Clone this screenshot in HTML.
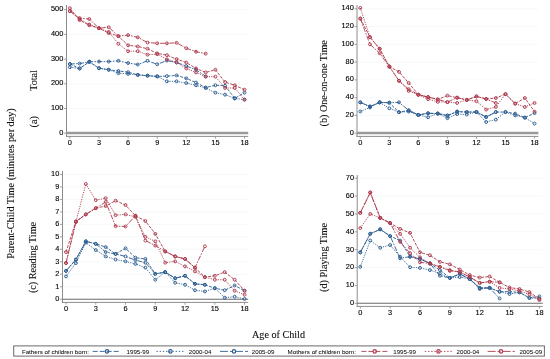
<!DOCTYPE html>
<html><head><meta charset="utf-8">
<style>
html,body{margin:0;padding:0;background:#fff;width:550px;height:359px;overflow:hidden}
svg{display:block;filter:blur(0.3px)}
.tk{font-family:"Liberation Sans",sans-serif;font-size:7.4px;fill:#000;stroke:#000;stroke-width:0.12px}
.st{font-family:"Liberation Serif",serif;font-size:10.6px;fill:#111;stroke:#111;stroke-width:0.1px}
.lg{font-family:"Liberation Sans",sans-serif;font-size:6.2px;fill:#111;stroke:#111;stroke-width:0.05px}
</style></head><body>
<svg width="550" height="359" viewBox="0 0 550 359">
<rect width="550" height="359" fill="#fff"/>
<line x1="66.5" y1="5" x2="66.5" y2="136.9" stroke="#8c8c8c" stroke-width="1"/>
<line x1="66.0" y1="136.4" x2="248.2" y2="136.4" stroke="#8c8c8c" stroke-width="1"/>
<line x1="66.5" y1="133.0" x2="248.2" y2="133.0" stroke="#9a9a9a" stroke-width="2.4"/>
<line x1="64.0" y1="133.20" x2="66.5" y2="133.20" stroke="#8c8c8c" stroke-width="0.8"/>
<text x="63.3" y="134.60" class="tk" text-anchor="end">0</text>
<line x1="67.5" y1="108.50" x2="248.2" y2="108.50" stroke="#f2f8f8" stroke-width="0.8"/>
<line x1="64.0" y1="108.50" x2="66.5" y2="108.50" stroke="#8c8c8c" stroke-width="0.8"/>
<text x="63.3" y="109.90" class="tk" text-anchor="end">100</text>
<line x1="67.5" y1="83.80" x2="248.2" y2="83.80" stroke="#f2f8f8" stroke-width="0.8"/>
<line x1="64.0" y1="83.80" x2="66.5" y2="83.80" stroke="#8c8c8c" stroke-width="0.8"/>
<text x="63.3" y="85.20" class="tk" text-anchor="end">200</text>
<line x1="67.5" y1="59.10" x2="248.2" y2="59.10" stroke="#f2f8f8" stroke-width="0.8"/>
<line x1="64.0" y1="59.10" x2="66.5" y2="59.10" stroke="#8c8c8c" stroke-width="0.8"/>
<text x="63.3" y="60.50" class="tk" text-anchor="end">300</text>
<line x1="67.5" y1="34.40" x2="248.2" y2="34.40" stroke="#f2f8f8" stroke-width="0.8"/>
<line x1="64.0" y1="34.40" x2="66.5" y2="34.40" stroke="#8c8c8c" stroke-width="0.8"/>
<text x="63.3" y="35.80" class="tk" text-anchor="end">400</text>
<line x1="67.5" y1="9.70" x2="248.2" y2="9.70" stroke="#f2f8f8" stroke-width="0.8"/>
<line x1="64.0" y1="9.70" x2="66.5" y2="9.70" stroke="#8c8c8c" stroke-width="0.8"/>
<text x="63.3" y="11.10" class="tk" text-anchor="end">500</text>
<line x1="69.90" y1="136.4" x2="69.90" y2="138.70000000000002" stroke="#8c8c8c" stroke-width="0.8"/>
<text x="69.90" y="144.70" class="tk" text-anchor="middle">0</text>
<line x1="99.00" y1="136.4" x2="99.00" y2="138.70000000000002" stroke="#8c8c8c" stroke-width="0.8"/>
<text x="99.00" y="144.70" class="tk" text-anchor="middle">3</text>
<line x1="128.10" y1="136.4" x2="128.10" y2="138.70000000000002" stroke="#8c8c8c" stroke-width="0.8"/>
<text x="128.10" y="144.70" class="tk" text-anchor="middle">6</text>
<line x1="157.20" y1="136.4" x2="157.20" y2="138.70000000000002" stroke="#8c8c8c" stroke-width="0.8"/>
<text x="157.20" y="144.70" class="tk" text-anchor="middle">9</text>
<line x1="186.30" y1="136.4" x2="186.30" y2="138.70000000000002" stroke="#8c8c8c" stroke-width="0.8"/>
<text x="186.30" y="144.70" class="tk" text-anchor="middle">12</text>
<line x1="215.40" y1="136.4" x2="215.40" y2="138.70000000000002" stroke="#8c8c8c" stroke-width="0.8"/>
<text x="215.40" y="144.70" class="tk" text-anchor="middle">15</text>
<line x1="244.50" y1="136.4" x2="244.50" y2="138.70000000000002" stroke="#8c8c8c" stroke-width="0.8"/>
<text x="244.50" y="144.70" class="tk" text-anchor="middle">18</text>
<polyline points="69.90,67.25 79.60,68.49 89.30,61.82 99.00,68.24 108.70,69.72 118.40,73.18 128.10,73.92 137.80,74.91 147.50,75.65 157.20,76.39 166.90,81.33 176.60,81.33 186.30,83.06 196.00,85.28 205.70,88.00 215.40,92.69 225.10,94.67 234.80,98.37 244.50,99.61" fill="none" stroke="#2c5d90" stroke-width="1" stroke-dasharray="1.2,1.2" opacity="0.9"/>
<circle cx="69.90" cy="67.25" r="1.45" fill="none" stroke="#2c5d90" stroke-width="0.95"/>
<circle cx="79.60" cy="68.49" r="1.45" fill="none" stroke="#2c5d90" stroke-width="0.95"/>
<circle cx="89.30" cy="61.82" r="1.45" fill="none" stroke="#2c5d90" stroke-width="0.95"/>
<circle cx="99.00" cy="68.24" r="1.45" fill="none" stroke="#2c5d90" stroke-width="0.95"/>
<circle cx="108.70" cy="69.72" r="1.45" fill="none" stroke="#2c5d90" stroke-width="0.95"/>
<circle cx="118.40" cy="73.18" r="1.45" fill="none" stroke="#2c5d90" stroke-width="0.95"/>
<circle cx="128.10" cy="73.92" r="1.45" fill="none" stroke="#2c5d90" stroke-width="0.95"/>
<circle cx="137.80" cy="74.91" r="1.45" fill="none" stroke="#2c5d90" stroke-width="0.95"/>
<circle cx="147.50" cy="75.65" r="1.45" fill="none" stroke="#2c5d90" stroke-width="0.95"/>
<circle cx="157.20" cy="76.39" r="1.45" fill="none" stroke="#2c5d90" stroke-width="0.95"/>
<circle cx="166.90" cy="81.33" r="1.45" fill="none" stroke="#2c5d90" stroke-width="0.95"/>
<circle cx="176.60" cy="81.33" r="1.45" fill="none" stroke="#2c5d90" stroke-width="0.95"/>
<circle cx="186.30" cy="83.06" r="1.45" fill="none" stroke="#2c5d90" stroke-width="0.95"/>
<circle cx="196.00" cy="85.28" r="1.45" fill="none" stroke="#2c5d90" stroke-width="0.95"/>
<circle cx="205.70" cy="88.00" r="1.45" fill="none" stroke="#2c5d90" stroke-width="0.95"/>
<circle cx="215.40" cy="92.69" r="1.45" fill="none" stroke="#2c5d90" stroke-width="0.95"/>
<circle cx="225.10" cy="94.67" r="1.45" fill="none" stroke="#2c5d90" stroke-width="0.95"/>
<circle cx="234.80" cy="98.37" r="1.45" fill="none" stroke="#2c5d90" stroke-width="0.95"/>
<circle cx="244.50" cy="99.61" r="1.45" fill="none" stroke="#2c5d90" stroke-width="0.95"/>
<polyline points="69.90,64.04 79.60,68.49 89.30,61.82 99.00,68.24 108.70,69.72 118.40,70.96 128.10,72.19 137.80,74.91 147.50,75.65 157.20,76.39 166.90,76.14 176.60,75.40 186.30,78.37 196.00,82.56 205.70,87.50 215.40,85.28 225.10,85.78 234.80,98.37 244.50,92.69" fill="none" stroke="#2c5d90" stroke-width="1" stroke-dasharray="3,1.3" opacity="0.9"/>
<circle cx="69.90" cy="64.04" r="1.45" fill="none" stroke="#2c5d90" stroke-width="0.95"/>
<circle cx="79.60" cy="68.49" r="1.45" fill="none" stroke="#2c5d90" stroke-width="0.95"/>
<circle cx="89.30" cy="61.82" r="1.45" fill="none" stroke="#2c5d90" stroke-width="0.95"/>
<circle cx="99.00" cy="68.24" r="1.45" fill="none" stroke="#2c5d90" stroke-width="0.95"/>
<circle cx="108.70" cy="69.72" r="1.45" fill="none" stroke="#2c5d90" stroke-width="0.95"/>
<circle cx="118.40" cy="70.96" r="1.45" fill="none" stroke="#2c5d90" stroke-width="0.95"/>
<circle cx="128.10" cy="72.19" r="1.45" fill="none" stroke="#2c5d90" stroke-width="0.95"/>
<circle cx="137.80" cy="74.91" r="1.45" fill="none" stroke="#2c5d90" stroke-width="0.95"/>
<circle cx="147.50" cy="75.65" r="1.45" fill="none" stroke="#2c5d90" stroke-width="0.95"/>
<circle cx="157.20" cy="76.39" r="1.45" fill="none" stroke="#2c5d90" stroke-width="0.95"/>
<circle cx="166.90" cy="76.14" r="1.45" fill="none" stroke="#2c5d90" stroke-width="0.95"/>
<circle cx="176.60" cy="75.40" r="1.45" fill="none" stroke="#2c5d90" stroke-width="0.95"/>
<circle cx="186.30" cy="78.37" r="1.45" fill="none" stroke="#2c5d90" stroke-width="0.95"/>
<circle cx="196.00" cy="82.56" r="1.45" fill="none" stroke="#2c5d90" stroke-width="0.95"/>
<circle cx="205.70" cy="87.50" r="1.45" fill="none" stroke="#2c5d90" stroke-width="0.95"/>
<circle cx="215.40" cy="85.28" r="1.45" fill="none" stroke="#2c5d90" stroke-width="0.95"/>
<circle cx="225.10" cy="85.78" r="1.45" fill="none" stroke="#2c5d90" stroke-width="0.95"/>
<circle cx="234.80" cy="98.37" r="1.45" fill="none" stroke="#2c5d90" stroke-width="0.95"/>
<circle cx="244.50" cy="92.69" r="1.45" fill="none" stroke="#2c5d90" stroke-width="0.95"/>
<polyline points="69.90,64.04 79.60,63.55 89.30,61.82 99.00,61.57 108.70,61.57 118.40,60.83 128.10,63.05 137.80,64.53 147.50,60.83 157.20,64.29 166.90,60.58 176.60,62.56 186.30,66.02 196.00,69.72 205.70,76.39" fill="none" stroke="#2c5d90" stroke-width="1" stroke-dasharray="5,1.3,1.6,1.3" opacity="0.9"/>
<circle cx="69.90" cy="64.04" r="1.45" fill="none" stroke="#2c5d90" stroke-width="0.95"/>
<circle cx="79.60" cy="63.55" r="1.45" fill="none" stroke="#2c5d90" stroke-width="0.95"/>
<circle cx="89.30" cy="61.82" r="1.45" fill="none" stroke="#2c5d90" stroke-width="0.95"/>
<circle cx="99.00" cy="61.57" r="1.45" fill="none" stroke="#2c5d90" stroke-width="0.95"/>
<circle cx="108.70" cy="61.57" r="1.45" fill="none" stroke="#2c5d90" stroke-width="0.95"/>
<circle cx="118.40" cy="60.83" r="1.45" fill="none" stroke="#2c5d90" stroke-width="0.95"/>
<circle cx="128.10" cy="63.05" r="1.45" fill="none" stroke="#2c5d90" stroke-width="0.95"/>
<circle cx="137.80" cy="64.53" r="1.45" fill="none" stroke="#2c5d90" stroke-width="0.95"/>
<circle cx="147.50" cy="60.83" r="1.45" fill="none" stroke="#2c5d90" stroke-width="0.95"/>
<circle cx="157.20" cy="64.29" r="1.45" fill="none" stroke="#2c5d90" stroke-width="0.95"/>
<circle cx="166.90" cy="60.58" r="1.45" fill="none" stroke="#2c5d90" stroke-width="0.95"/>
<circle cx="176.60" cy="62.56" r="1.45" fill="none" stroke="#2c5d90" stroke-width="0.95"/>
<circle cx="186.30" cy="66.02" r="1.45" fill="none" stroke="#2c5d90" stroke-width="0.95"/>
<circle cx="196.00" cy="69.72" r="1.45" fill="none" stroke="#2c5d90" stroke-width="0.95"/>
<circle cx="205.70" cy="76.39" r="1.45" fill="none" stroke="#2c5d90" stroke-width="0.95"/>
<polyline points="69.90,11.18 79.60,19.09 89.30,24.52 99.00,28.22 108.70,31.93 118.40,43.79 128.10,51.20 137.80,51.20 147.50,54.65 157.20,54.16 166.90,59.35 176.60,62.31 186.30,68.49 196.00,72.44 205.70,76.64 215.40,76.64 225.10,88.00 234.80,88.00 244.50,99.61" fill="none" stroke="#ad3a4c" stroke-width="1" stroke-dasharray="1.2,1.2" opacity="0.9"/>
<circle cx="69.90" cy="11.18" r="1.45" fill="none" stroke="#ad3a4c" stroke-width="0.95"/>
<circle cx="79.60" cy="19.09" r="1.45" fill="none" stroke="#ad3a4c" stroke-width="0.95"/>
<circle cx="89.30" cy="24.52" r="1.45" fill="none" stroke="#ad3a4c" stroke-width="0.95"/>
<circle cx="99.00" cy="28.22" r="1.45" fill="none" stroke="#ad3a4c" stroke-width="0.95"/>
<circle cx="108.70" cy="31.93" r="1.45" fill="none" stroke="#ad3a4c" stroke-width="0.95"/>
<circle cx="118.40" cy="43.79" r="1.45" fill="none" stroke="#ad3a4c" stroke-width="0.95"/>
<circle cx="128.10" cy="51.20" r="1.45" fill="none" stroke="#ad3a4c" stroke-width="0.95"/>
<circle cx="137.80" cy="51.20" r="1.45" fill="none" stroke="#ad3a4c" stroke-width="0.95"/>
<circle cx="147.50" cy="54.65" r="1.45" fill="none" stroke="#ad3a4c" stroke-width="0.95"/>
<circle cx="157.20" cy="54.16" r="1.45" fill="none" stroke="#ad3a4c" stroke-width="0.95"/>
<circle cx="166.90" cy="59.35" r="1.45" fill="none" stroke="#ad3a4c" stroke-width="0.95"/>
<circle cx="176.60" cy="62.31" r="1.45" fill="none" stroke="#ad3a4c" stroke-width="0.95"/>
<circle cx="186.30" cy="68.49" r="1.45" fill="none" stroke="#ad3a4c" stroke-width="0.95"/>
<circle cx="196.00" cy="72.44" r="1.45" fill="none" stroke="#ad3a4c" stroke-width="0.95"/>
<circle cx="205.70" cy="76.64" r="1.45" fill="none" stroke="#ad3a4c" stroke-width="0.95"/>
<circle cx="215.40" cy="76.64" r="1.45" fill="none" stroke="#ad3a4c" stroke-width="0.95"/>
<circle cx="225.10" cy="88.00" r="1.45" fill="none" stroke="#ad3a4c" stroke-width="0.95"/>
<circle cx="234.80" cy="88.00" r="1.45" fill="none" stroke="#ad3a4c" stroke-width="0.95"/>
<circle cx="244.50" cy="99.61" r="1.45" fill="none" stroke="#ad3a4c" stroke-width="0.95"/>
<polyline points="69.90,8.22 79.60,20.07 89.30,25.26 99.00,28.22 108.70,33.16 118.40,36.13 128.10,45.27 137.80,46.50 147.50,48.73 157.20,53.42 166.90,55.15 176.60,59.10 186.30,62.56 196.00,68.49 205.70,72.44 215.40,69.72 225.10,82.07 234.80,85.28 244.50,89.73" fill="none" stroke="#ad3a4c" stroke-width="1" stroke-dasharray="3,1.3" opacity="0.9"/>
<circle cx="69.90" cy="8.22" r="1.45" fill="none" stroke="#ad3a4c" stroke-width="0.95"/>
<circle cx="79.60" cy="20.07" r="1.45" fill="none" stroke="#ad3a4c" stroke-width="0.95"/>
<circle cx="89.30" cy="25.26" r="1.45" fill="none" stroke="#ad3a4c" stroke-width="0.95"/>
<circle cx="99.00" cy="28.22" r="1.45" fill="none" stroke="#ad3a4c" stroke-width="0.95"/>
<circle cx="108.70" cy="33.16" r="1.45" fill="none" stroke="#ad3a4c" stroke-width="0.95"/>
<circle cx="118.40" cy="36.13" r="1.45" fill="none" stroke="#ad3a4c" stroke-width="0.95"/>
<circle cx="128.10" cy="45.27" r="1.45" fill="none" stroke="#ad3a4c" stroke-width="0.95"/>
<circle cx="137.80" cy="46.50" r="1.45" fill="none" stroke="#ad3a4c" stroke-width="0.95"/>
<circle cx="147.50" cy="48.73" r="1.45" fill="none" stroke="#ad3a4c" stroke-width="0.95"/>
<circle cx="157.20" cy="53.42" r="1.45" fill="none" stroke="#ad3a4c" stroke-width="0.95"/>
<circle cx="166.90" cy="55.15" r="1.45" fill="none" stroke="#ad3a4c" stroke-width="0.95"/>
<circle cx="176.60" cy="59.10" r="1.45" fill="none" stroke="#ad3a4c" stroke-width="0.95"/>
<circle cx="186.30" cy="62.56" r="1.45" fill="none" stroke="#ad3a4c" stroke-width="0.95"/>
<circle cx="196.00" cy="68.49" r="1.45" fill="none" stroke="#ad3a4c" stroke-width="0.95"/>
<circle cx="205.70" cy="72.44" r="1.45" fill="none" stroke="#ad3a4c" stroke-width="0.95"/>
<circle cx="215.40" cy="69.72" r="1.45" fill="none" stroke="#ad3a4c" stroke-width="0.95"/>
<circle cx="225.10" cy="82.07" r="1.45" fill="none" stroke="#ad3a4c" stroke-width="0.95"/>
<circle cx="234.80" cy="85.28" r="1.45" fill="none" stroke="#ad3a4c" stroke-width="0.95"/>
<circle cx="244.50" cy="89.73" r="1.45" fill="none" stroke="#ad3a4c" stroke-width="0.95"/>
<polyline points="69.90,11.18 79.60,18.10 89.30,19.09 99.00,28.22 108.70,27.24 118.40,36.13 128.10,35.14 137.80,37.36 147.50,42.55 157.20,43.29 166.90,43.29 176.60,42.80 186.30,48.23 196.00,51.69 205.70,53.67" fill="none" stroke="#ad3a4c" stroke-width="1" stroke-dasharray="5,1.3,1.6,1.3" opacity="0.9"/>
<circle cx="69.90" cy="11.18" r="1.45" fill="none" stroke="#ad3a4c" stroke-width="0.95"/>
<circle cx="79.60" cy="18.10" r="1.45" fill="none" stroke="#ad3a4c" stroke-width="0.95"/>
<circle cx="89.30" cy="19.09" r="1.45" fill="none" stroke="#ad3a4c" stroke-width="0.95"/>
<circle cx="99.00" cy="28.22" r="1.45" fill="none" stroke="#ad3a4c" stroke-width="0.95"/>
<circle cx="108.70" cy="27.24" r="1.45" fill="none" stroke="#ad3a4c" stroke-width="0.95"/>
<circle cx="118.40" cy="36.13" r="1.45" fill="none" stroke="#ad3a4c" stroke-width="0.95"/>
<circle cx="128.10" cy="35.14" r="1.45" fill="none" stroke="#ad3a4c" stroke-width="0.95"/>
<circle cx="137.80" cy="37.36" r="1.45" fill="none" stroke="#ad3a4c" stroke-width="0.95"/>
<circle cx="147.50" cy="42.55" r="1.45" fill="none" stroke="#ad3a4c" stroke-width="0.95"/>
<circle cx="157.20" cy="43.29" r="1.45" fill="none" stroke="#ad3a4c" stroke-width="0.95"/>
<circle cx="166.90" cy="43.29" r="1.45" fill="none" stroke="#ad3a4c" stroke-width="0.95"/>
<circle cx="176.60" cy="42.80" r="1.45" fill="none" stroke="#ad3a4c" stroke-width="0.95"/>
<circle cx="186.30" cy="48.23" r="1.45" fill="none" stroke="#ad3a4c" stroke-width="0.95"/>
<circle cx="196.00" cy="51.69" r="1.45" fill="none" stroke="#ad3a4c" stroke-width="0.95"/>
<circle cx="205.70" cy="53.67" r="1.45" fill="none" stroke="#ad3a4c" stroke-width="0.95"/>
<line x1="357.0" y1="5" x2="357.0" y2="136.9" stroke="#8c8c8c" stroke-width="1"/>
<line x1="356.5" y1="136.4" x2="538.4" y2="136.4" stroke="#8c8c8c" stroke-width="1"/>
<line x1="357.0" y1="133.0" x2="538.4" y2="133.0" stroke="#9a9a9a" stroke-width="2.4"/>
<line x1="354.5" y1="133.20" x2="357.0" y2="133.20" stroke="#8c8c8c" stroke-width="0.8"/>
<text x="353.8" y="134.60" class="tk" text-anchor="end">0</text>
<line x1="358.0" y1="115.43" x2="538.4" y2="115.43" stroke="#f2f8f8" stroke-width="0.8"/>
<line x1="354.5" y1="115.43" x2="357.0" y2="115.43" stroke="#8c8c8c" stroke-width="0.8"/>
<text x="353.8" y="116.83" class="tk" text-anchor="end">20</text>
<line x1="358.0" y1="97.66" x2="538.4" y2="97.66" stroke="#f2f8f8" stroke-width="0.8"/>
<line x1="354.5" y1="97.66" x2="357.0" y2="97.66" stroke="#8c8c8c" stroke-width="0.8"/>
<text x="353.8" y="99.06" class="tk" text-anchor="end">40</text>
<line x1="358.0" y1="79.88" x2="538.4" y2="79.88" stroke="#f2f8f8" stroke-width="0.8"/>
<line x1="354.5" y1="79.88" x2="357.0" y2="79.88" stroke="#8c8c8c" stroke-width="0.8"/>
<text x="353.8" y="81.28" class="tk" text-anchor="end">60</text>
<line x1="358.0" y1="62.11" x2="538.4" y2="62.11" stroke="#f2f8f8" stroke-width="0.8"/>
<line x1="354.5" y1="62.11" x2="357.0" y2="62.11" stroke="#8c8c8c" stroke-width="0.8"/>
<text x="353.8" y="63.51" class="tk" text-anchor="end">80</text>
<line x1="358.0" y1="44.34" x2="538.4" y2="44.34" stroke="#f2f8f8" stroke-width="0.8"/>
<line x1="354.5" y1="44.34" x2="357.0" y2="44.34" stroke="#8c8c8c" stroke-width="0.8"/>
<text x="353.8" y="45.74" class="tk" text-anchor="end">100</text>
<line x1="358.0" y1="26.57" x2="538.4" y2="26.57" stroke="#f2f8f8" stroke-width="0.8"/>
<line x1="354.5" y1="26.57" x2="357.0" y2="26.57" stroke="#8c8c8c" stroke-width="0.8"/>
<text x="353.8" y="27.97" class="tk" text-anchor="end">120</text>
<line x1="358.0" y1="8.80" x2="538.4" y2="8.80" stroke="#f2f8f8" stroke-width="0.8"/>
<line x1="354.5" y1="8.80" x2="357.0" y2="8.80" stroke="#8c8c8c" stroke-width="0.8"/>
<text x="353.8" y="10.20" class="tk" text-anchor="end">140</text>
<line x1="360.30" y1="136.4" x2="360.30" y2="138.70000000000002" stroke="#8c8c8c" stroke-width="0.8"/>
<text x="360.30" y="144.70" class="tk" text-anchor="middle">0</text>
<line x1="389.34" y1="136.4" x2="389.34" y2="138.70000000000002" stroke="#8c8c8c" stroke-width="0.8"/>
<text x="389.34" y="144.70" class="tk" text-anchor="middle">3</text>
<line x1="418.38" y1="136.4" x2="418.38" y2="138.70000000000002" stroke="#8c8c8c" stroke-width="0.8"/>
<text x="418.38" y="144.70" class="tk" text-anchor="middle">6</text>
<line x1="447.42" y1="136.4" x2="447.42" y2="138.70000000000002" stroke="#8c8c8c" stroke-width="0.8"/>
<text x="447.42" y="144.70" class="tk" text-anchor="middle">9</text>
<line x1="476.46" y1="136.4" x2="476.46" y2="138.70000000000002" stroke="#8c8c8c" stroke-width="0.8"/>
<text x="476.46" y="144.70" class="tk" text-anchor="middle">12</text>
<line x1="505.50" y1="136.4" x2="505.50" y2="138.70000000000002" stroke="#8c8c8c" stroke-width="0.8"/>
<text x="505.50" y="144.70" class="tk" text-anchor="middle">15</text>
<line x1="534.54" y1="136.4" x2="534.54" y2="138.70000000000002" stroke="#8c8c8c" stroke-width="0.8"/>
<text x="534.54" y="144.70" class="tk" text-anchor="middle">18</text>
<polyline points="360.30,111.52 369.98,107.43 379.66,102.37 389.34,108.32 399.02,112.23 408.70,111.52 418.38,114.98 428.06,117.29 437.74,113.56 447.42,118.18 457.10,114.01 466.78,114.54 476.46,112.05 486.14,122.00 495.82,119.60 505.50,112.05 515.18,115.43 524.86,117.65 534.54,123.60" fill="none" stroke="#2c5d90" stroke-width="1" stroke-dasharray="1.2,1.2" opacity="0.9"/>
<circle cx="360.30" cy="111.52" r="1.45" fill="none" stroke="#2c5d90" stroke-width="0.95"/>
<circle cx="369.98" cy="107.43" r="1.45" fill="none" stroke="#2c5d90" stroke-width="0.95"/>
<circle cx="379.66" cy="102.37" r="1.45" fill="none" stroke="#2c5d90" stroke-width="0.95"/>
<circle cx="389.34" cy="108.32" r="1.45" fill="none" stroke="#2c5d90" stroke-width="0.95"/>
<circle cx="399.02" cy="112.23" r="1.45" fill="none" stroke="#2c5d90" stroke-width="0.95"/>
<circle cx="408.70" cy="111.52" r="1.45" fill="none" stroke="#2c5d90" stroke-width="0.95"/>
<circle cx="418.38" cy="114.98" r="1.45" fill="none" stroke="#2c5d90" stroke-width="0.95"/>
<circle cx="428.06" cy="117.29" r="1.45" fill="none" stroke="#2c5d90" stroke-width="0.95"/>
<circle cx="437.74" cy="113.56" r="1.45" fill="none" stroke="#2c5d90" stroke-width="0.95"/>
<circle cx="447.42" cy="118.18" r="1.45" fill="none" stroke="#2c5d90" stroke-width="0.95"/>
<circle cx="457.10" cy="114.01" r="1.45" fill="none" stroke="#2c5d90" stroke-width="0.95"/>
<circle cx="466.78" cy="114.54" r="1.45" fill="none" stroke="#2c5d90" stroke-width="0.95"/>
<circle cx="476.46" cy="112.05" r="1.45" fill="none" stroke="#2c5d90" stroke-width="0.95"/>
<circle cx="486.14" cy="122.00" r="1.45" fill="none" stroke="#2c5d90" stroke-width="0.95"/>
<circle cx="495.82" cy="119.60" r="1.45" fill="none" stroke="#2c5d90" stroke-width="0.95"/>
<circle cx="505.50" cy="112.05" r="1.45" fill="none" stroke="#2c5d90" stroke-width="0.95"/>
<circle cx="515.18" cy="115.43" r="1.45" fill="none" stroke="#2c5d90" stroke-width="0.95"/>
<circle cx="524.86" cy="117.65" r="1.45" fill="none" stroke="#2c5d90" stroke-width="0.95"/>
<circle cx="534.54" cy="123.60" r="1.45" fill="none" stroke="#2c5d90" stroke-width="0.95"/>
<polyline points="360.30,102.37 369.98,106.54 379.66,102.37 389.34,102.72 399.02,112.23 408.70,110.36 418.38,114.98 428.06,113.30 437.74,113.56 447.42,115.52 457.10,111.61 466.78,112.05 476.46,112.05 486.14,117.03 495.82,112.05 505.50,112.05 515.18,113.65 524.86,117.65 534.54,113.03" fill="none" stroke="#2c5d90" stroke-width="1" stroke-dasharray="3,1.3" opacity="0.9"/>
<circle cx="360.30" cy="102.37" r="1.45" fill="none" stroke="#2c5d90" stroke-width="0.95"/>
<circle cx="369.98" cy="106.54" r="1.45" fill="none" stroke="#2c5d90" stroke-width="0.95"/>
<circle cx="379.66" cy="102.37" r="1.45" fill="none" stroke="#2c5d90" stroke-width="0.95"/>
<circle cx="389.34" cy="102.72" r="1.45" fill="none" stroke="#2c5d90" stroke-width="0.95"/>
<circle cx="399.02" cy="112.23" r="1.45" fill="none" stroke="#2c5d90" stroke-width="0.95"/>
<circle cx="408.70" cy="110.36" r="1.45" fill="none" stroke="#2c5d90" stroke-width="0.95"/>
<circle cx="418.38" cy="114.98" r="1.45" fill="none" stroke="#2c5d90" stroke-width="0.95"/>
<circle cx="428.06" cy="113.30" r="1.45" fill="none" stroke="#2c5d90" stroke-width="0.95"/>
<circle cx="437.74" cy="113.56" r="1.45" fill="none" stroke="#2c5d90" stroke-width="0.95"/>
<circle cx="447.42" cy="115.52" r="1.45" fill="none" stroke="#2c5d90" stroke-width="0.95"/>
<circle cx="457.10" cy="111.61" r="1.45" fill="none" stroke="#2c5d90" stroke-width="0.95"/>
<circle cx="466.78" cy="112.05" r="1.45" fill="none" stroke="#2c5d90" stroke-width="0.95"/>
<circle cx="476.46" cy="112.05" r="1.45" fill="none" stroke="#2c5d90" stroke-width="0.95"/>
<circle cx="486.14" cy="117.03" r="1.45" fill="none" stroke="#2c5d90" stroke-width="0.95"/>
<circle cx="495.82" cy="112.05" r="1.45" fill="none" stroke="#2c5d90" stroke-width="0.95"/>
<circle cx="505.50" cy="112.05" r="1.45" fill="none" stroke="#2c5d90" stroke-width="0.95"/>
<circle cx="515.18" cy="113.65" r="1.45" fill="none" stroke="#2c5d90" stroke-width="0.95"/>
<circle cx="524.86" cy="117.65" r="1.45" fill="none" stroke="#2c5d90" stroke-width="0.95"/>
<circle cx="534.54" cy="113.03" r="1.45" fill="none" stroke="#2c5d90" stroke-width="0.95"/>
<polyline points="360.30,102.37 369.98,106.54 379.66,102.37 389.34,102.72 399.02,102.37 408.70,110.36 418.38,114.98 428.06,113.30 437.74,113.56 447.42,115.52 457.10,111.61 466.78,112.05 476.46,112.05 486.14,117.03 495.82,112.05" fill="none" stroke="#2c5d90" stroke-width="1" stroke-dasharray="5,1.3,1.6,1.3" opacity="0.9"/>
<circle cx="360.30" cy="102.37" r="1.45" fill="none" stroke="#2c5d90" stroke-width="0.95"/>
<circle cx="369.98" cy="106.54" r="1.45" fill="none" stroke="#2c5d90" stroke-width="0.95"/>
<circle cx="379.66" cy="102.37" r="1.45" fill="none" stroke="#2c5d90" stroke-width="0.95"/>
<circle cx="389.34" cy="102.72" r="1.45" fill="none" stroke="#2c5d90" stroke-width="0.95"/>
<circle cx="399.02" cy="102.37" r="1.45" fill="none" stroke="#2c5d90" stroke-width="0.95"/>
<circle cx="408.70" cy="110.36" r="1.45" fill="none" stroke="#2c5d90" stroke-width="0.95"/>
<circle cx="418.38" cy="114.98" r="1.45" fill="none" stroke="#2c5d90" stroke-width="0.95"/>
<circle cx="428.06" cy="113.30" r="1.45" fill="none" stroke="#2c5d90" stroke-width="0.95"/>
<circle cx="437.74" cy="113.56" r="1.45" fill="none" stroke="#2c5d90" stroke-width="0.95"/>
<circle cx="447.42" cy="115.52" r="1.45" fill="none" stroke="#2c5d90" stroke-width="0.95"/>
<circle cx="457.10" cy="111.61" r="1.45" fill="none" stroke="#2c5d90" stroke-width="0.95"/>
<circle cx="466.78" cy="112.05" r="1.45" fill="none" stroke="#2c5d90" stroke-width="0.95"/>
<circle cx="476.46" cy="112.05" r="1.45" fill="none" stroke="#2c5d90" stroke-width="0.95"/>
<circle cx="486.14" cy="117.03" r="1.45" fill="none" stroke="#2c5d90" stroke-width="0.95"/>
<circle cx="495.82" cy="112.05" r="1.45" fill="none" stroke="#2c5d90" stroke-width="0.95"/>
<polyline points="360.30,7.91 369.98,37.23 379.66,48.78 389.34,66.55 399.02,80.77 408.70,90.90 418.38,94.72 428.06,99.17 437.74,101.83 447.42,102.10 457.10,102.99 466.78,99.97 476.46,101.21 486.14,109.56 495.82,106.99 505.50,94.10 515.18,103.61 524.86,106.99 534.54,102.99" fill="none" stroke="#ad3a4c" stroke-width="1" stroke-dasharray="1.2,1.2" opacity="0.9"/>
<circle cx="360.30" cy="7.91" r="1.45" fill="none" stroke="#ad3a4c" stroke-width="0.95"/>
<circle cx="369.98" cy="37.23" r="1.45" fill="none" stroke="#ad3a4c" stroke-width="0.95"/>
<circle cx="379.66" cy="48.78" r="1.45" fill="none" stroke="#ad3a4c" stroke-width="0.95"/>
<circle cx="389.34" cy="66.55" r="1.45" fill="none" stroke="#ad3a4c" stroke-width="0.95"/>
<circle cx="399.02" cy="80.77" r="1.45" fill="none" stroke="#ad3a4c" stroke-width="0.95"/>
<circle cx="408.70" cy="90.90" r="1.45" fill="none" stroke="#ad3a4c" stroke-width="0.95"/>
<circle cx="418.38" cy="94.72" r="1.45" fill="none" stroke="#ad3a4c" stroke-width="0.95"/>
<circle cx="428.06" cy="99.17" r="1.45" fill="none" stroke="#ad3a4c" stroke-width="0.95"/>
<circle cx="437.74" cy="101.83" r="1.45" fill="none" stroke="#ad3a4c" stroke-width="0.95"/>
<circle cx="447.42" cy="102.10" r="1.45" fill="none" stroke="#ad3a4c" stroke-width="0.95"/>
<circle cx="457.10" cy="102.99" r="1.45" fill="none" stroke="#ad3a4c" stroke-width="0.95"/>
<circle cx="466.78" cy="99.97" r="1.45" fill="none" stroke="#ad3a4c" stroke-width="0.95"/>
<circle cx="476.46" cy="101.21" r="1.45" fill="none" stroke="#ad3a4c" stroke-width="0.95"/>
<circle cx="486.14" cy="109.56" r="1.45" fill="none" stroke="#ad3a4c" stroke-width="0.95"/>
<circle cx="495.82" cy="106.99" r="1.45" fill="none" stroke="#ad3a4c" stroke-width="0.95"/>
<circle cx="505.50" cy="94.10" r="1.45" fill="none" stroke="#ad3a4c" stroke-width="0.95"/>
<circle cx="515.18" cy="103.61" r="1.45" fill="none" stroke="#ad3a4c" stroke-width="0.95"/>
<circle cx="524.86" cy="106.99" r="1.45" fill="none" stroke="#ad3a4c" stroke-width="0.95"/>
<circle cx="534.54" cy="102.99" r="1.45" fill="none" stroke="#ad3a4c" stroke-width="0.95"/>
<polyline points="360.30,18.57 369.98,37.23 379.66,48.78 389.34,66.55 399.02,71.89 408.70,82.99 418.38,94.72 428.06,97.03 437.74,99.43 447.42,95.61 457.10,97.66 466.78,99.97 476.46,96.41 486.14,98.99 495.82,98.01 505.50,94.10 515.18,103.61 524.86,98.01 534.54,111.61" fill="none" stroke="#ad3a4c" stroke-width="1" stroke-dasharray="3,1.3" opacity="0.9"/>
<circle cx="360.30" cy="18.57" r="1.45" fill="none" stroke="#ad3a4c" stroke-width="0.95"/>
<circle cx="369.98" cy="37.23" r="1.45" fill="none" stroke="#ad3a4c" stroke-width="0.95"/>
<circle cx="379.66" cy="48.78" r="1.45" fill="none" stroke="#ad3a4c" stroke-width="0.95"/>
<circle cx="389.34" cy="66.55" r="1.45" fill="none" stroke="#ad3a4c" stroke-width="0.95"/>
<circle cx="399.02" cy="71.89" r="1.45" fill="none" stroke="#ad3a4c" stroke-width="0.95"/>
<circle cx="408.70" cy="82.99" r="1.45" fill="none" stroke="#ad3a4c" stroke-width="0.95"/>
<circle cx="418.38" cy="94.72" r="1.45" fill="none" stroke="#ad3a4c" stroke-width="0.95"/>
<circle cx="428.06" cy="97.03" r="1.45" fill="none" stroke="#ad3a4c" stroke-width="0.95"/>
<circle cx="437.74" cy="99.43" r="1.45" fill="none" stroke="#ad3a4c" stroke-width="0.95"/>
<circle cx="447.42" cy="95.61" r="1.45" fill="none" stroke="#ad3a4c" stroke-width="0.95"/>
<circle cx="457.10" cy="97.66" r="1.45" fill="none" stroke="#ad3a4c" stroke-width="0.95"/>
<circle cx="466.78" cy="99.97" r="1.45" fill="none" stroke="#ad3a4c" stroke-width="0.95"/>
<circle cx="476.46" cy="96.41" r="1.45" fill="none" stroke="#ad3a4c" stroke-width="0.95"/>
<circle cx="486.14" cy="98.99" r="1.45" fill="none" stroke="#ad3a4c" stroke-width="0.95"/>
<circle cx="495.82" cy="98.01" r="1.45" fill="none" stroke="#ad3a4c" stroke-width="0.95"/>
<circle cx="505.50" cy="94.10" r="1.45" fill="none" stroke="#ad3a4c" stroke-width="0.95"/>
<circle cx="515.18" cy="103.61" r="1.45" fill="none" stroke="#ad3a4c" stroke-width="0.95"/>
<circle cx="524.86" cy="98.01" r="1.45" fill="none" stroke="#ad3a4c" stroke-width="0.95"/>
<circle cx="534.54" cy="111.61" r="1.45" fill="none" stroke="#ad3a4c" stroke-width="0.95"/>
<polyline points="360.30,18.57 369.98,44.34 379.66,53.23 389.34,66.55 399.02,80.77 408.70,89.21 418.38,94.72 428.06,97.03 437.74,99.43 447.42,102.10 457.10,97.66 466.78,99.97 476.46,96.41 486.14,98.99 495.82,102.99" fill="none" stroke="#ad3a4c" stroke-width="1" stroke-dasharray="5,1.3,1.6,1.3" opacity="0.9"/>
<circle cx="360.30" cy="18.57" r="1.45" fill="none" stroke="#ad3a4c" stroke-width="0.95"/>
<circle cx="369.98" cy="44.34" r="1.45" fill="none" stroke="#ad3a4c" stroke-width="0.95"/>
<circle cx="379.66" cy="53.23" r="1.45" fill="none" stroke="#ad3a4c" stroke-width="0.95"/>
<circle cx="389.34" cy="66.55" r="1.45" fill="none" stroke="#ad3a4c" stroke-width="0.95"/>
<circle cx="399.02" cy="80.77" r="1.45" fill="none" stroke="#ad3a4c" stroke-width="0.95"/>
<circle cx="408.70" cy="89.21" r="1.45" fill="none" stroke="#ad3a4c" stroke-width="0.95"/>
<circle cx="418.38" cy="94.72" r="1.45" fill="none" stroke="#ad3a4c" stroke-width="0.95"/>
<circle cx="428.06" cy="97.03" r="1.45" fill="none" stroke="#ad3a4c" stroke-width="0.95"/>
<circle cx="437.74" cy="99.43" r="1.45" fill="none" stroke="#ad3a4c" stroke-width="0.95"/>
<circle cx="447.42" cy="102.10" r="1.45" fill="none" stroke="#ad3a4c" stroke-width="0.95"/>
<circle cx="457.10" cy="97.66" r="1.45" fill="none" stroke="#ad3a4c" stroke-width="0.95"/>
<circle cx="466.78" cy="99.97" r="1.45" fill="none" stroke="#ad3a4c" stroke-width="0.95"/>
<circle cx="476.46" cy="96.41" r="1.45" fill="none" stroke="#ad3a4c" stroke-width="0.95"/>
<circle cx="486.14" cy="98.99" r="1.45" fill="none" stroke="#ad3a4c" stroke-width="0.95"/>
<circle cx="495.82" cy="102.99" r="1.45" fill="none" stroke="#ad3a4c" stroke-width="0.95"/>
<line x1="62.5" y1="171" x2="62.5" y2="302.9" stroke="#8c8c8c" stroke-width="1"/>
<line x1="62.0" y1="302.4" x2="248.2" y2="302.4" stroke="#8c8c8c" stroke-width="1"/>
<line x1="62.5" y1="299.2" x2="248.2" y2="299.2" stroke="#6a6a6a" stroke-width="1.1"/>
<line x1="60.0" y1="299.20" x2="62.5" y2="299.20" stroke="#8c8c8c" stroke-width="0.8"/>
<text x="59.3" y="301.10" class="tk" text-anchor="end">0</text>
<line x1="63.5" y1="286.73" x2="248.2" y2="286.73" stroke="#f2f8f8" stroke-width="0.8"/>
<line x1="60.0" y1="286.73" x2="62.5" y2="286.73" stroke="#8c8c8c" stroke-width="0.8"/>
<text x="59.3" y="288.63" class="tk" text-anchor="end">1</text>
<line x1="63.5" y1="274.26" x2="248.2" y2="274.26" stroke="#f2f8f8" stroke-width="0.8"/>
<line x1="60.0" y1="274.26" x2="62.5" y2="274.26" stroke="#8c8c8c" stroke-width="0.8"/>
<text x="59.3" y="276.16" class="tk" text-anchor="end">2</text>
<line x1="63.5" y1="261.79" x2="248.2" y2="261.79" stroke="#f2f8f8" stroke-width="0.8"/>
<line x1="60.0" y1="261.79" x2="62.5" y2="261.79" stroke="#8c8c8c" stroke-width="0.8"/>
<text x="59.3" y="263.69" class="tk" text-anchor="end">3</text>
<line x1="63.5" y1="249.32" x2="248.2" y2="249.32" stroke="#f2f8f8" stroke-width="0.8"/>
<line x1="60.0" y1="249.32" x2="62.5" y2="249.32" stroke="#8c8c8c" stroke-width="0.8"/>
<text x="59.3" y="251.22" class="tk" text-anchor="end">4</text>
<line x1="63.5" y1="236.85" x2="248.2" y2="236.85" stroke="#f2f8f8" stroke-width="0.8"/>
<line x1="60.0" y1="236.85" x2="62.5" y2="236.85" stroke="#8c8c8c" stroke-width="0.8"/>
<text x="59.3" y="238.75" class="tk" text-anchor="end">5</text>
<line x1="63.5" y1="224.38" x2="248.2" y2="224.38" stroke="#f2f8f8" stroke-width="0.8"/>
<line x1="60.0" y1="224.38" x2="62.5" y2="224.38" stroke="#8c8c8c" stroke-width="0.8"/>
<text x="59.3" y="226.28" class="tk" text-anchor="end">6</text>
<line x1="63.5" y1="211.91" x2="248.2" y2="211.91" stroke="#f2f8f8" stroke-width="0.8"/>
<line x1="60.0" y1="211.91" x2="62.5" y2="211.91" stroke="#8c8c8c" stroke-width="0.8"/>
<text x="59.3" y="213.81" class="tk" text-anchor="end">7</text>
<line x1="63.5" y1="199.44" x2="248.2" y2="199.44" stroke="#f2f8f8" stroke-width="0.8"/>
<line x1="60.0" y1="199.44" x2="62.5" y2="199.44" stroke="#8c8c8c" stroke-width="0.8"/>
<text x="59.3" y="201.34" class="tk" text-anchor="end">8</text>
<line x1="63.5" y1="186.97" x2="248.2" y2="186.97" stroke="#f2f8f8" stroke-width="0.8"/>
<line x1="60.0" y1="186.97" x2="62.5" y2="186.97" stroke="#8c8c8c" stroke-width="0.8"/>
<text x="59.3" y="188.87" class="tk" text-anchor="end">9</text>
<line x1="63.5" y1="174.50" x2="248.2" y2="174.50" stroke="#f2f8f8" stroke-width="0.8"/>
<line x1="60.0" y1="174.50" x2="62.5" y2="174.50" stroke="#8c8c8c" stroke-width="0.8"/>
<text x="59.3" y="176.40" class="tk" text-anchor="end">10</text>
<line x1="66.00" y1="302.4" x2="66.00" y2="304.7" stroke="#8c8c8c" stroke-width="0.8"/>
<text x="66.00" y="310.70" class="tk" text-anchor="middle">0</text>
<line x1="95.76" y1="302.4" x2="95.76" y2="304.7" stroke="#8c8c8c" stroke-width="0.8"/>
<text x="95.76" y="310.70" class="tk" text-anchor="middle">3</text>
<line x1="125.52" y1="302.4" x2="125.52" y2="304.7" stroke="#8c8c8c" stroke-width="0.8"/>
<text x="125.52" y="310.70" class="tk" text-anchor="middle">6</text>
<line x1="155.28" y1="302.4" x2="155.28" y2="304.7" stroke="#8c8c8c" stroke-width="0.8"/>
<text x="155.28" y="310.70" class="tk" text-anchor="middle">9</text>
<line x1="185.04" y1="302.4" x2="185.04" y2="304.7" stroke="#8c8c8c" stroke-width="0.8"/>
<text x="185.04" y="310.70" class="tk" text-anchor="middle">12</text>
<line x1="214.80" y1="302.4" x2="214.80" y2="304.7" stroke="#8c8c8c" stroke-width="0.8"/>
<text x="214.80" y="310.70" class="tk" text-anchor="middle">15</text>
<line x1="244.56" y1="302.4" x2="244.56" y2="304.7" stroke="#8c8c8c" stroke-width="0.8"/>
<text x="244.56" y="310.70" class="tk" text-anchor="middle">18</text>
<polyline points="66.00,276.38 75.92,263.04 85.84,242.59 95.76,250.07 105.68,256.43 115.60,259.55 125.52,261.42 135.44,263.91 145.36,267.65 155.28,279.75 165.20,272.14 175.12,282.74 185.04,284.73 194.96,290.22 204.88,291.47 214.80,288.23 224.72,297.70 234.64,296.71 244.56,298.95" fill="none" stroke="#2c5d90" stroke-width="1" stroke-dasharray="1.2,1.2" opacity="0.9"/>
<circle cx="66.00" cy="276.38" r="1.45" fill="none" stroke="#2c5d90" stroke-width="0.95"/>
<circle cx="75.92" cy="263.04" r="1.45" fill="none" stroke="#2c5d90" stroke-width="0.95"/>
<circle cx="85.84" cy="242.59" r="1.45" fill="none" stroke="#2c5d90" stroke-width="0.95"/>
<circle cx="95.76" cy="250.07" r="1.45" fill="none" stroke="#2c5d90" stroke-width="0.95"/>
<circle cx="105.68" cy="256.43" r="1.45" fill="none" stroke="#2c5d90" stroke-width="0.95"/>
<circle cx="115.60" cy="259.55" r="1.45" fill="none" stroke="#2c5d90" stroke-width="0.95"/>
<circle cx="125.52" cy="261.42" r="1.45" fill="none" stroke="#2c5d90" stroke-width="0.95"/>
<circle cx="135.44" cy="263.91" r="1.45" fill="none" stroke="#2c5d90" stroke-width="0.95"/>
<circle cx="145.36" cy="267.65" r="1.45" fill="none" stroke="#2c5d90" stroke-width="0.95"/>
<circle cx="155.28" cy="279.75" r="1.45" fill="none" stroke="#2c5d90" stroke-width="0.95"/>
<circle cx="165.20" cy="272.14" r="1.45" fill="none" stroke="#2c5d90" stroke-width="0.95"/>
<circle cx="175.12" cy="282.74" r="1.45" fill="none" stroke="#2c5d90" stroke-width="0.95"/>
<circle cx="185.04" cy="284.73" r="1.45" fill="none" stroke="#2c5d90" stroke-width="0.95"/>
<circle cx="194.96" cy="290.22" r="1.45" fill="none" stroke="#2c5d90" stroke-width="0.95"/>
<circle cx="204.88" cy="291.47" r="1.45" fill="none" stroke="#2c5d90" stroke-width="0.95"/>
<circle cx="214.80" cy="288.23" r="1.45" fill="none" stroke="#2c5d90" stroke-width="0.95"/>
<circle cx="224.72" cy="297.70" r="1.45" fill="none" stroke="#2c5d90" stroke-width="0.95"/>
<circle cx="234.64" cy="296.71" r="1.45" fill="none" stroke="#2c5d90" stroke-width="0.95"/>
<circle cx="244.56" cy="298.95" r="1.45" fill="none" stroke="#2c5d90" stroke-width="0.95"/>
<polyline points="66.00,270.89 75.92,259.55 85.84,241.34 95.76,243.83 105.68,247.08 115.60,253.93 125.52,248.32 135.44,257.67 145.36,258.92 155.28,273.89 165.20,272.14 175.12,278.25 185.04,275.76 194.96,283.86 204.88,284.73 214.80,288.23 224.72,290.22 234.64,285.48 244.56,290.72" fill="none" stroke="#2c5d90" stroke-width="1" stroke-dasharray="3,1.3" opacity="0.9"/>
<circle cx="66.00" cy="270.89" r="1.45" fill="none" stroke="#2c5d90" stroke-width="0.95"/>
<circle cx="75.92" cy="259.55" r="1.45" fill="none" stroke="#2c5d90" stroke-width="0.95"/>
<circle cx="85.84" cy="241.34" r="1.45" fill="none" stroke="#2c5d90" stroke-width="0.95"/>
<circle cx="95.76" cy="243.83" r="1.45" fill="none" stroke="#2c5d90" stroke-width="0.95"/>
<circle cx="105.68" cy="247.08" r="1.45" fill="none" stroke="#2c5d90" stroke-width="0.95"/>
<circle cx="115.60" cy="253.93" r="1.45" fill="none" stroke="#2c5d90" stroke-width="0.95"/>
<circle cx="125.52" cy="248.32" r="1.45" fill="none" stroke="#2c5d90" stroke-width="0.95"/>
<circle cx="135.44" cy="257.67" r="1.45" fill="none" stroke="#2c5d90" stroke-width="0.95"/>
<circle cx="145.36" cy="258.92" r="1.45" fill="none" stroke="#2c5d90" stroke-width="0.95"/>
<circle cx="155.28" cy="273.89" r="1.45" fill="none" stroke="#2c5d90" stroke-width="0.95"/>
<circle cx="165.20" cy="272.14" r="1.45" fill="none" stroke="#2c5d90" stroke-width="0.95"/>
<circle cx="175.12" cy="278.25" r="1.45" fill="none" stroke="#2c5d90" stroke-width="0.95"/>
<circle cx="185.04" cy="275.76" r="1.45" fill="none" stroke="#2c5d90" stroke-width="0.95"/>
<circle cx="194.96" cy="283.86" r="1.45" fill="none" stroke="#2c5d90" stroke-width="0.95"/>
<circle cx="204.88" cy="284.73" r="1.45" fill="none" stroke="#2c5d90" stroke-width="0.95"/>
<circle cx="214.80" cy="288.23" r="1.45" fill="none" stroke="#2c5d90" stroke-width="0.95"/>
<circle cx="224.72" cy="290.22" r="1.45" fill="none" stroke="#2c5d90" stroke-width="0.95"/>
<circle cx="234.64" cy="285.48" r="1.45" fill="none" stroke="#2c5d90" stroke-width="0.95"/>
<circle cx="244.56" cy="290.72" r="1.45" fill="none" stroke="#2c5d90" stroke-width="0.95"/>
<polyline points="66.00,270.89 75.92,259.55 85.84,241.34 95.76,243.83 105.68,252.06 115.60,253.93 125.52,256.43 135.44,260.17 145.36,262.66 155.28,273.89 165.20,272.14 175.12,278.25 185.04,275.76 194.96,283.86 204.88,284.73" fill="none" stroke="#2c5d90" stroke-width="1" stroke-dasharray="5,1.3,1.6,1.3" opacity="0.9"/>
<circle cx="66.00" cy="270.89" r="1.45" fill="none" stroke="#2c5d90" stroke-width="0.95"/>
<circle cx="75.92" cy="259.55" r="1.45" fill="none" stroke="#2c5d90" stroke-width="0.95"/>
<circle cx="85.84" cy="241.34" r="1.45" fill="none" stroke="#2c5d90" stroke-width="0.95"/>
<circle cx="95.76" cy="243.83" r="1.45" fill="none" stroke="#2c5d90" stroke-width="0.95"/>
<circle cx="105.68" cy="252.06" r="1.45" fill="none" stroke="#2c5d90" stroke-width="0.95"/>
<circle cx="115.60" cy="253.93" r="1.45" fill="none" stroke="#2c5d90" stroke-width="0.95"/>
<circle cx="125.52" cy="256.43" r="1.45" fill="none" stroke="#2c5d90" stroke-width="0.95"/>
<circle cx="135.44" cy="260.17" r="1.45" fill="none" stroke="#2c5d90" stroke-width="0.95"/>
<circle cx="145.36" cy="262.66" r="1.45" fill="none" stroke="#2c5d90" stroke-width="0.95"/>
<circle cx="155.28" cy="273.89" r="1.45" fill="none" stroke="#2c5d90" stroke-width="0.95"/>
<circle cx="165.20" cy="272.14" r="1.45" fill="none" stroke="#2c5d90" stroke-width="0.95"/>
<circle cx="175.12" cy="278.25" r="1.45" fill="none" stroke="#2c5d90" stroke-width="0.95"/>
<circle cx="185.04" cy="275.76" r="1.45" fill="none" stroke="#2c5d90" stroke-width="0.95"/>
<circle cx="194.96" cy="283.86" r="1.45" fill="none" stroke="#2c5d90" stroke-width="0.95"/>
<circle cx="204.88" cy="284.73" r="1.45" fill="none" stroke="#2c5d90" stroke-width="0.95"/>
<polyline points="66.00,263.04 75.92,221.89 85.84,183.98 95.76,200.19 105.68,198.19 115.60,215.15 125.52,214.40 135.44,216.90 145.36,236.85 155.28,241.34 165.20,262.66 175.12,261.42 185.04,266.40 194.96,271.39 204.88,277.13 214.80,279.75 224.72,279.75 234.64,290.72 244.56,294.71" fill="none" stroke="#ad3a4c" stroke-width="1" stroke-dasharray="1.2,1.2" opacity="0.9"/>
<circle cx="66.00" cy="263.04" r="1.45" fill="none" stroke="#ad3a4c" stroke-width="0.95"/>
<circle cx="75.92" cy="221.89" r="1.45" fill="none" stroke="#ad3a4c" stroke-width="0.95"/>
<circle cx="85.84" cy="183.98" r="1.45" fill="none" stroke="#ad3a4c" stroke-width="0.95"/>
<circle cx="95.76" cy="200.19" r="1.45" fill="none" stroke="#ad3a4c" stroke-width="0.95"/>
<circle cx="105.68" cy="198.19" r="1.45" fill="none" stroke="#ad3a4c" stroke-width="0.95"/>
<circle cx="115.60" cy="215.15" r="1.45" fill="none" stroke="#ad3a4c" stroke-width="0.95"/>
<circle cx="125.52" cy="214.40" r="1.45" fill="none" stroke="#ad3a4c" stroke-width="0.95"/>
<circle cx="135.44" cy="216.90" r="1.45" fill="none" stroke="#ad3a4c" stroke-width="0.95"/>
<circle cx="145.36" cy="236.85" r="1.45" fill="none" stroke="#ad3a4c" stroke-width="0.95"/>
<circle cx="155.28" cy="241.34" r="1.45" fill="none" stroke="#ad3a4c" stroke-width="0.95"/>
<circle cx="165.20" cy="262.66" r="1.45" fill="none" stroke="#ad3a4c" stroke-width="0.95"/>
<circle cx="175.12" cy="261.42" r="1.45" fill="none" stroke="#ad3a4c" stroke-width="0.95"/>
<circle cx="185.04" cy="266.40" r="1.45" fill="none" stroke="#ad3a4c" stroke-width="0.95"/>
<circle cx="194.96" cy="271.39" r="1.45" fill="none" stroke="#ad3a4c" stroke-width="0.95"/>
<circle cx="204.88" cy="277.13" r="1.45" fill="none" stroke="#ad3a4c" stroke-width="0.95"/>
<circle cx="214.80" cy="279.75" r="1.45" fill="none" stroke="#ad3a4c" stroke-width="0.95"/>
<circle cx="224.72" cy="279.75" r="1.45" fill="none" stroke="#ad3a4c" stroke-width="0.95"/>
<circle cx="234.64" cy="290.72" r="1.45" fill="none" stroke="#ad3a4c" stroke-width="0.95"/>
<circle cx="244.56" cy="294.71" r="1.45" fill="none" stroke="#ad3a4c" stroke-width="0.95"/>
<polyline points="66.00,252.06 75.92,221.26 85.84,214.40 95.76,208.17 105.68,206.05 115.60,200.69 125.52,205.05 135.44,215.78 145.36,221.01 155.28,233.86 165.20,251.44 175.12,256.43 185.04,258.92 194.96,267.65 204.88,277.13 214.80,275.76 224.72,272.14 234.64,279.75 244.56,290.72" fill="none" stroke="#ad3a4c" stroke-width="1" stroke-dasharray="3,1.3" opacity="0.9"/>
<circle cx="66.00" cy="252.06" r="1.45" fill="none" stroke="#ad3a4c" stroke-width="0.95"/>
<circle cx="75.92" cy="221.26" r="1.45" fill="none" stroke="#ad3a4c" stroke-width="0.95"/>
<circle cx="85.84" cy="214.40" r="1.45" fill="none" stroke="#ad3a4c" stroke-width="0.95"/>
<circle cx="95.76" cy="208.17" r="1.45" fill="none" stroke="#ad3a4c" stroke-width="0.95"/>
<circle cx="105.68" cy="206.05" r="1.45" fill="none" stroke="#ad3a4c" stroke-width="0.95"/>
<circle cx="115.60" cy="200.69" r="1.45" fill="none" stroke="#ad3a4c" stroke-width="0.95"/>
<circle cx="125.52" cy="205.05" r="1.45" fill="none" stroke="#ad3a4c" stroke-width="0.95"/>
<circle cx="135.44" cy="215.78" r="1.45" fill="none" stroke="#ad3a4c" stroke-width="0.95"/>
<circle cx="145.36" cy="221.01" r="1.45" fill="none" stroke="#ad3a4c" stroke-width="0.95"/>
<circle cx="155.28" cy="233.86" r="1.45" fill="none" stroke="#ad3a4c" stroke-width="0.95"/>
<circle cx="165.20" cy="251.44" r="1.45" fill="none" stroke="#ad3a4c" stroke-width="0.95"/>
<circle cx="175.12" cy="256.43" r="1.45" fill="none" stroke="#ad3a4c" stroke-width="0.95"/>
<circle cx="185.04" cy="258.92" r="1.45" fill="none" stroke="#ad3a4c" stroke-width="0.95"/>
<circle cx="194.96" cy="267.65" r="1.45" fill="none" stroke="#ad3a4c" stroke-width="0.95"/>
<circle cx="204.88" cy="277.13" r="1.45" fill="none" stroke="#ad3a4c" stroke-width="0.95"/>
<circle cx="214.80" cy="275.76" r="1.45" fill="none" stroke="#ad3a4c" stroke-width="0.95"/>
<circle cx="224.72" cy="272.14" r="1.45" fill="none" stroke="#ad3a4c" stroke-width="0.95"/>
<circle cx="234.64" cy="279.75" r="1.45" fill="none" stroke="#ad3a4c" stroke-width="0.95"/>
<circle cx="244.56" cy="290.72" r="1.45" fill="none" stroke="#ad3a4c" stroke-width="0.95"/>
<polyline points="66.00,263.04 75.92,221.89 85.84,214.40 95.76,208.17 105.68,201.93 115.60,226.13 125.52,226.50 135.44,215.78 145.36,240.59 155.28,245.58 165.20,251.44 175.12,256.43 185.04,258.92 194.96,267.65 204.88,246.33" fill="none" stroke="#ad3a4c" stroke-width="1" stroke-dasharray="5,1.3,1.6,1.3" opacity="0.9"/>
<circle cx="66.00" cy="263.04" r="1.45" fill="none" stroke="#ad3a4c" stroke-width="0.95"/>
<circle cx="75.92" cy="221.89" r="1.45" fill="none" stroke="#ad3a4c" stroke-width="0.95"/>
<circle cx="85.84" cy="214.40" r="1.45" fill="none" stroke="#ad3a4c" stroke-width="0.95"/>
<circle cx="95.76" cy="208.17" r="1.45" fill="none" stroke="#ad3a4c" stroke-width="0.95"/>
<circle cx="105.68" cy="201.93" r="1.45" fill="none" stroke="#ad3a4c" stroke-width="0.95"/>
<circle cx="115.60" cy="226.13" r="1.45" fill="none" stroke="#ad3a4c" stroke-width="0.95"/>
<circle cx="125.52" cy="226.50" r="1.45" fill="none" stroke="#ad3a4c" stroke-width="0.95"/>
<circle cx="135.44" cy="215.78" r="1.45" fill="none" stroke="#ad3a4c" stroke-width="0.95"/>
<circle cx="145.36" cy="240.59" r="1.45" fill="none" stroke="#ad3a4c" stroke-width="0.95"/>
<circle cx="155.28" cy="245.58" r="1.45" fill="none" stroke="#ad3a4c" stroke-width="0.95"/>
<circle cx="165.20" cy="251.44" r="1.45" fill="none" stroke="#ad3a4c" stroke-width="0.95"/>
<circle cx="175.12" cy="256.43" r="1.45" fill="none" stroke="#ad3a4c" stroke-width="0.95"/>
<circle cx="185.04" cy="258.92" r="1.45" fill="none" stroke="#ad3a4c" stroke-width="0.95"/>
<circle cx="194.96" cy="267.65" r="1.45" fill="none" stroke="#ad3a4c" stroke-width="0.95"/>
<circle cx="204.88" cy="246.33" r="1.45" fill="none" stroke="#ad3a4c" stroke-width="0.95"/>
<line x1="357.2" y1="175" x2="357.2" y2="306.9" stroke="#8c8c8c" stroke-width="1"/>
<line x1="356.7" y1="306.4" x2="542.7" y2="306.4" stroke="#8c8c8c" stroke-width="1"/>
<line x1="357.2" y1="303.3" x2="542.7" y2="303.3" stroke="#6a6a6a" stroke-width="1.1"/>
<line x1="354.7" y1="303.30" x2="357.2" y2="303.30" stroke="#8c8c8c" stroke-width="0.8"/>
<text x="354.0" y="305.20" class="tk" text-anchor="end">0</text>
<line x1="358.2" y1="285.43" x2="542.7" y2="285.43" stroke="#f2f8f8" stroke-width="0.8"/>
<line x1="354.7" y1="285.43" x2="357.2" y2="285.43" stroke="#8c8c8c" stroke-width="0.8"/>
<text x="354.0" y="287.33" class="tk" text-anchor="end">10</text>
<line x1="358.2" y1="267.56" x2="542.7" y2="267.56" stroke="#f2f8f8" stroke-width="0.8"/>
<line x1="354.7" y1="267.56" x2="357.2" y2="267.56" stroke="#8c8c8c" stroke-width="0.8"/>
<text x="354.0" y="269.46" class="tk" text-anchor="end">20</text>
<line x1="358.2" y1="249.69" x2="542.7" y2="249.69" stroke="#f2f8f8" stroke-width="0.8"/>
<line x1="354.7" y1="249.69" x2="357.2" y2="249.69" stroke="#8c8c8c" stroke-width="0.8"/>
<text x="354.0" y="251.59" class="tk" text-anchor="end">30</text>
<line x1="358.2" y1="231.82" x2="542.7" y2="231.82" stroke="#f2f8f8" stroke-width="0.8"/>
<line x1="354.7" y1="231.82" x2="357.2" y2="231.82" stroke="#8c8c8c" stroke-width="0.8"/>
<text x="354.0" y="233.72" class="tk" text-anchor="end">40</text>
<line x1="358.2" y1="213.95" x2="542.7" y2="213.95" stroke="#f2f8f8" stroke-width="0.8"/>
<line x1="354.7" y1="213.95" x2="357.2" y2="213.95" stroke="#8c8c8c" stroke-width="0.8"/>
<text x="354.0" y="215.85" class="tk" text-anchor="end">50</text>
<line x1="358.2" y1="196.08" x2="542.7" y2="196.08" stroke="#f2f8f8" stroke-width="0.8"/>
<line x1="354.7" y1="196.08" x2="357.2" y2="196.08" stroke="#8c8c8c" stroke-width="0.8"/>
<text x="354.0" y="197.98" class="tk" text-anchor="end">60</text>
<line x1="358.2" y1="178.21" x2="542.7" y2="178.21" stroke="#f2f8f8" stroke-width="0.8"/>
<line x1="354.7" y1="178.21" x2="357.2" y2="178.21" stroke="#8c8c8c" stroke-width="0.8"/>
<text x="354.0" y="180.11" class="tk" text-anchor="end">70</text>
<line x1="360.30" y1="306.4" x2="360.30" y2="308.7" stroke="#8c8c8c" stroke-width="0.8"/>
<text x="360.30" y="314.70" class="tk" text-anchor="middle">0</text>
<line x1="390.15" y1="306.4" x2="390.15" y2="308.7" stroke="#8c8c8c" stroke-width="0.8"/>
<text x="390.15" y="314.70" class="tk" text-anchor="middle">3</text>
<line x1="420.00" y1="306.4" x2="420.00" y2="308.7" stroke="#8c8c8c" stroke-width="0.8"/>
<text x="420.00" y="314.70" class="tk" text-anchor="middle">6</text>
<line x1="449.85" y1="306.4" x2="449.85" y2="308.7" stroke="#8c8c8c" stroke-width="0.8"/>
<text x="449.85" y="314.70" class="tk" text-anchor="middle">9</text>
<line x1="479.70" y1="306.4" x2="479.70" y2="308.7" stroke="#8c8c8c" stroke-width="0.8"/>
<text x="479.70" y="314.70" class="tk" text-anchor="middle">12</text>
<line x1="509.55" y1="306.4" x2="509.55" y2="308.7" stroke="#8c8c8c" stroke-width="0.8"/>
<text x="509.55" y="314.70" class="tk" text-anchor="middle">15</text>
<line x1="539.40" y1="306.4" x2="539.40" y2="308.7" stroke="#8c8c8c" stroke-width="0.8"/>
<text x="539.40" y="314.70" class="tk" text-anchor="middle">18</text>
<polyline points="360.30,266.85 370.25,240.58 380.20,247.72 390.15,245.04 400.10,256.66 410.05,267.20 420.00,267.92 429.95,270.06 439.90,273.46 449.85,277.92 459.80,277.03 469.75,279.00 479.70,289.00 489.65,287.93 499.60,291.68 509.55,294.01 519.50,292.40 529.45,297.94 539.40,298.48" fill="none" stroke="#2c5d90" stroke-width="1" stroke-dasharray="1.2,1.2" opacity="0.9"/>
<circle cx="360.30" cy="266.85" r="1.45" fill="none" stroke="#2c5d90" stroke-width="0.95"/>
<circle cx="370.25" cy="240.58" r="1.45" fill="none" stroke="#2c5d90" stroke-width="0.95"/>
<circle cx="380.20" cy="247.72" r="1.45" fill="none" stroke="#2c5d90" stroke-width="0.95"/>
<circle cx="390.15" cy="245.04" r="1.45" fill="none" stroke="#2c5d90" stroke-width="0.95"/>
<circle cx="400.10" cy="256.66" r="1.45" fill="none" stroke="#2c5d90" stroke-width="0.95"/>
<circle cx="410.05" cy="267.20" r="1.45" fill="none" stroke="#2c5d90" stroke-width="0.95"/>
<circle cx="420.00" cy="267.92" r="1.45" fill="none" stroke="#2c5d90" stroke-width="0.95"/>
<circle cx="429.95" cy="270.06" r="1.45" fill="none" stroke="#2c5d90" stroke-width="0.95"/>
<circle cx="439.90" cy="273.46" r="1.45" fill="none" stroke="#2c5d90" stroke-width="0.95"/>
<circle cx="449.85" cy="277.92" r="1.45" fill="none" stroke="#2c5d90" stroke-width="0.95"/>
<circle cx="459.80" cy="277.03" r="1.45" fill="none" stroke="#2c5d90" stroke-width="0.95"/>
<circle cx="469.75" cy="279.00" r="1.45" fill="none" stroke="#2c5d90" stroke-width="0.95"/>
<circle cx="479.70" cy="289.00" r="1.45" fill="none" stroke="#2c5d90" stroke-width="0.95"/>
<circle cx="489.65" cy="287.93" r="1.45" fill="none" stroke="#2c5d90" stroke-width="0.95"/>
<circle cx="499.60" cy="291.68" r="1.45" fill="none" stroke="#2c5d90" stroke-width="0.95"/>
<circle cx="509.55" cy="294.01" r="1.45" fill="none" stroke="#2c5d90" stroke-width="0.95"/>
<circle cx="519.50" cy="292.40" r="1.45" fill="none" stroke="#2c5d90" stroke-width="0.95"/>
<circle cx="529.45" cy="297.94" r="1.45" fill="none" stroke="#2c5d90" stroke-width="0.95"/>
<circle cx="539.40" cy="298.48" r="1.45" fill="none" stroke="#2c5d90" stroke-width="0.95"/>
<polyline points="360.30,252.37 370.25,233.79 380.20,229.32 390.15,236.11 400.10,240.58 410.05,256.66 420.00,258.98 429.95,263.45 439.90,270.06 449.85,277.92 459.80,273.99 469.75,279.00 479.70,287.93 489.65,287.93 499.60,291.68 509.55,291.68 519.50,292.40 529.45,297.94 539.40,296.33" fill="none" stroke="#2c5d90" stroke-width="1" stroke-dasharray="3,1.3" opacity="0.9"/>
<circle cx="360.30" cy="252.37" r="1.45" fill="none" stroke="#2c5d90" stroke-width="0.95"/>
<circle cx="370.25" cy="233.79" r="1.45" fill="none" stroke="#2c5d90" stroke-width="0.95"/>
<circle cx="380.20" cy="229.32" r="1.45" fill="none" stroke="#2c5d90" stroke-width="0.95"/>
<circle cx="390.15" cy="236.11" r="1.45" fill="none" stroke="#2c5d90" stroke-width="0.95"/>
<circle cx="400.10" cy="240.58" r="1.45" fill="none" stroke="#2c5d90" stroke-width="0.95"/>
<circle cx="410.05" cy="256.66" r="1.45" fill="none" stroke="#2c5d90" stroke-width="0.95"/>
<circle cx="420.00" cy="258.98" r="1.45" fill="none" stroke="#2c5d90" stroke-width="0.95"/>
<circle cx="429.95" cy="263.45" r="1.45" fill="none" stroke="#2c5d90" stroke-width="0.95"/>
<circle cx="439.90" cy="270.06" r="1.45" fill="none" stroke="#2c5d90" stroke-width="0.95"/>
<circle cx="449.85" cy="277.92" r="1.45" fill="none" stroke="#2c5d90" stroke-width="0.95"/>
<circle cx="459.80" cy="273.99" r="1.45" fill="none" stroke="#2c5d90" stroke-width="0.95"/>
<circle cx="469.75" cy="279.00" r="1.45" fill="none" stroke="#2c5d90" stroke-width="0.95"/>
<circle cx="479.70" cy="287.93" r="1.45" fill="none" stroke="#2c5d90" stroke-width="0.95"/>
<circle cx="489.65" cy="287.93" r="1.45" fill="none" stroke="#2c5d90" stroke-width="0.95"/>
<circle cx="499.60" cy="291.68" r="1.45" fill="none" stroke="#2c5d90" stroke-width="0.95"/>
<circle cx="509.55" cy="291.68" r="1.45" fill="none" stroke="#2c5d90" stroke-width="0.95"/>
<circle cx="519.50" cy="292.40" r="1.45" fill="none" stroke="#2c5d90" stroke-width="0.95"/>
<circle cx="529.45" cy="297.94" r="1.45" fill="none" stroke="#2c5d90" stroke-width="0.95"/>
<circle cx="539.40" cy="296.33" r="1.45" fill="none" stroke="#2c5d90" stroke-width="0.95"/>
<polyline points="360.30,252.37 370.25,233.79 380.20,229.32 390.15,236.11 400.10,258.27 410.05,256.66 420.00,258.98 429.95,263.45 439.90,275.78 449.85,277.92 459.80,273.99 469.75,279.00 479.70,287.93 489.65,287.93 499.60,298.48" fill="none" stroke="#2c5d90" stroke-width="1" stroke-dasharray="5,1.3,1.6,1.3" opacity="0.9"/>
<circle cx="360.30" cy="252.37" r="1.45" fill="none" stroke="#2c5d90" stroke-width="0.95"/>
<circle cx="370.25" cy="233.79" r="1.45" fill="none" stroke="#2c5d90" stroke-width="0.95"/>
<circle cx="380.20" cy="229.32" r="1.45" fill="none" stroke="#2c5d90" stroke-width="0.95"/>
<circle cx="390.15" cy="236.11" r="1.45" fill="none" stroke="#2c5d90" stroke-width="0.95"/>
<circle cx="400.10" cy="258.27" r="1.45" fill="none" stroke="#2c5d90" stroke-width="0.95"/>
<circle cx="410.05" cy="256.66" r="1.45" fill="none" stroke="#2c5d90" stroke-width="0.95"/>
<circle cx="420.00" cy="258.98" r="1.45" fill="none" stroke="#2c5d90" stroke-width="0.95"/>
<circle cx="429.95" cy="263.45" r="1.45" fill="none" stroke="#2c5d90" stroke-width="0.95"/>
<circle cx="439.90" cy="275.78" r="1.45" fill="none" stroke="#2c5d90" stroke-width="0.95"/>
<circle cx="449.85" cy="277.92" r="1.45" fill="none" stroke="#2c5d90" stroke-width="0.95"/>
<circle cx="459.80" cy="273.99" r="1.45" fill="none" stroke="#2c5d90" stroke-width="0.95"/>
<circle cx="469.75" cy="279.00" r="1.45" fill="none" stroke="#2c5d90" stroke-width="0.95"/>
<circle cx="479.70" cy="287.93" r="1.45" fill="none" stroke="#2c5d90" stroke-width="0.95"/>
<circle cx="489.65" cy="287.93" r="1.45" fill="none" stroke="#2c5d90" stroke-width="0.95"/>
<circle cx="499.60" cy="298.48" r="1.45" fill="none" stroke="#2c5d90" stroke-width="0.95"/>
<polyline points="360.30,228.07 370.25,213.95 380.20,217.88 390.15,223.06 400.10,233.79 410.05,247.72 420.00,257.37 429.95,263.45 439.90,266.85 449.85,270.96 459.80,272.03 469.75,277.03 479.70,282.93 489.65,281.68 499.60,287.93 509.55,289.00 519.50,290.97 529.45,294.37 539.40,300.08" fill="none" stroke="#ad3a4c" stroke-width="1" stroke-dasharray="1.2,1.2" opacity="0.9"/>
<circle cx="360.30" cy="228.07" r="1.45" fill="none" stroke="#ad3a4c" stroke-width="0.95"/>
<circle cx="370.25" cy="213.95" r="1.45" fill="none" stroke="#ad3a4c" stroke-width="0.95"/>
<circle cx="380.20" cy="217.88" r="1.45" fill="none" stroke="#ad3a4c" stroke-width="0.95"/>
<circle cx="390.15" cy="223.06" r="1.45" fill="none" stroke="#ad3a4c" stroke-width="0.95"/>
<circle cx="400.10" cy="233.79" r="1.45" fill="none" stroke="#ad3a4c" stroke-width="0.95"/>
<circle cx="410.05" cy="247.72" r="1.45" fill="none" stroke="#ad3a4c" stroke-width="0.95"/>
<circle cx="420.00" cy="257.37" r="1.45" fill="none" stroke="#ad3a4c" stroke-width="0.95"/>
<circle cx="429.95" cy="263.45" r="1.45" fill="none" stroke="#ad3a4c" stroke-width="0.95"/>
<circle cx="439.90" cy="266.85" r="1.45" fill="none" stroke="#ad3a4c" stroke-width="0.95"/>
<circle cx="449.85" cy="270.96" r="1.45" fill="none" stroke="#ad3a4c" stroke-width="0.95"/>
<circle cx="459.80" cy="272.03" r="1.45" fill="none" stroke="#ad3a4c" stroke-width="0.95"/>
<circle cx="469.75" cy="277.03" r="1.45" fill="none" stroke="#ad3a4c" stroke-width="0.95"/>
<circle cx="479.70" cy="282.93" r="1.45" fill="none" stroke="#ad3a4c" stroke-width="0.95"/>
<circle cx="489.65" cy="281.68" r="1.45" fill="none" stroke="#ad3a4c" stroke-width="0.95"/>
<circle cx="499.60" cy="287.93" r="1.45" fill="none" stroke="#ad3a4c" stroke-width="0.95"/>
<circle cx="509.55" cy="289.00" r="1.45" fill="none" stroke="#ad3a4c" stroke-width="0.95"/>
<circle cx="519.50" cy="290.97" r="1.45" fill="none" stroke="#ad3a4c" stroke-width="0.95"/>
<circle cx="529.45" cy="294.37" r="1.45" fill="none" stroke="#ad3a4c" stroke-width="0.95"/>
<circle cx="539.40" cy="300.08" r="1.45" fill="none" stroke="#ad3a4c" stroke-width="0.95"/>
<polyline points="360.30,212.88 370.25,192.51 380.20,217.88 390.15,223.06 400.10,228.96 410.05,232.89 420.00,252.37 429.95,255.23 439.90,261.84 449.85,264.34 459.80,269.53 469.75,275.07 479.70,277.57 489.65,276.50 499.60,282.39 509.55,287.57 519.50,289.00 529.45,292.04 539.40,299.01" fill="none" stroke="#ad3a4c" stroke-width="1" stroke-dasharray="3,1.3" opacity="0.9"/>
<circle cx="360.30" cy="212.88" r="1.45" fill="none" stroke="#ad3a4c" stroke-width="0.95"/>
<circle cx="370.25" cy="192.51" r="1.45" fill="none" stroke="#ad3a4c" stroke-width="0.95"/>
<circle cx="380.20" cy="217.88" r="1.45" fill="none" stroke="#ad3a4c" stroke-width="0.95"/>
<circle cx="390.15" cy="223.06" r="1.45" fill="none" stroke="#ad3a4c" stroke-width="0.95"/>
<circle cx="400.10" cy="228.96" r="1.45" fill="none" stroke="#ad3a4c" stroke-width="0.95"/>
<circle cx="410.05" cy="232.89" r="1.45" fill="none" stroke="#ad3a4c" stroke-width="0.95"/>
<circle cx="420.00" cy="252.37" r="1.45" fill="none" stroke="#ad3a4c" stroke-width="0.95"/>
<circle cx="429.95" cy="255.23" r="1.45" fill="none" stroke="#ad3a4c" stroke-width="0.95"/>
<circle cx="439.90" cy="261.84" r="1.45" fill="none" stroke="#ad3a4c" stroke-width="0.95"/>
<circle cx="449.85" cy="264.34" r="1.45" fill="none" stroke="#ad3a4c" stroke-width="0.95"/>
<circle cx="459.80" cy="269.53" r="1.45" fill="none" stroke="#ad3a4c" stroke-width="0.95"/>
<circle cx="469.75" cy="275.07" r="1.45" fill="none" stroke="#ad3a4c" stroke-width="0.95"/>
<circle cx="479.70" cy="277.57" r="1.45" fill="none" stroke="#ad3a4c" stroke-width="0.95"/>
<circle cx="489.65" cy="276.50" r="1.45" fill="none" stroke="#ad3a4c" stroke-width="0.95"/>
<circle cx="499.60" cy="282.39" r="1.45" fill="none" stroke="#ad3a4c" stroke-width="0.95"/>
<circle cx="509.55" cy="287.57" r="1.45" fill="none" stroke="#ad3a4c" stroke-width="0.95"/>
<circle cx="519.50" cy="289.00" r="1.45" fill="none" stroke="#ad3a4c" stroke-width="0.95"/>
<circle cx="529.45" cy="292.04" r="1.45" fill="none" stroke="#ad3a4c" stroke-width="0.95"/>
<circle cx="539.40" cy="299.01" r="1.45" fill="none" stroke="#ad3a4c" stroke-width="0.95"/>
<polyline points="360.30,212.88 370.25,192.51 380.20,217.88 390.15,223.06 400.10,241.83 410.05,253.09 420.00,262.38 429.95,263.45 439.90,266.85 449.85,270.06 459.80,272.03 469.75,277.03 479.70,282.93 489.65,281.68 499.60,282.39" fill="none" stroke="#ad3a4c" stroke-width="1" stroke-dasharray="5,1.3,1.6,1.3" opacity="0.9"/>
<circle cx="360.30" cy="212.88" r="1.45" fill="none" stroke="#ad3a4c" stroke-width="0.95"/>
<circle cx="370.25" cy="192.51" r="1.45" fill="none" stroke="#ad3a4c" stroke-width="0.95"/>
<circle cx="380.20" cy="217.88" r="1.45" fill="none" stroke="#ad3a4c" stroke-width="0.95"/>
<circle cx="390.15" cy="223.06" r="1.45" fill="none" stroke="#ad3a4c" stroke-width="0.95"/>
<circle cx="400.10" cy="241.83" r="1.45" fill="none" stroke="#ad3a4c" stroke-width="0.95"/>
<circle cx="410.05" cy="253.09" r="1.45" fill="none" stroke="#ad3a4c" stroke-width="0.95"/>
<circle cx="420.00" cy="262.38" r="1.45" fill="none" stroke="#ad3a4c" stroke-width="0.95"/>
<circle cx="429.95" cy="263.45" r="1.45" fill="none" stroke="#ad3a4c" stroke-width="0.95"/>
<circle cx="439.90" cy="266.85" r="1.45" fill="none" stroke="#ad3a4c" stroke-width="0.95"/>
<circle cx="449.85" cy="270.06" r="1.45" fill="none" stroke="#ad3a4c" stroke-width="0.95"/>
<circle cx="459.80" cy="272.03" r="1.45" fill="none" stroke="#ad3a4c" stroke-width="0.95"/>
<circle cx="469.75" cy="277.03" r="1.45" fill="none" stroke="#ad3a4c" stroke-width="0.95"/>
<circle cx="479.70" cy="282.93" r="1.45" fill="none" stroke="#ad3a4c" stroke-width="0.95"/>
<circle cx="489.65" cy="281.68" r="1.45" fill="none" stroke="#ad3a4c" stroke-width="0.95"/>
<circle cx="499.60" cy="282.39" r="1.45" fill="none" stroke="#ad3a4c" stroke-width="0.95"/>
<text class="st" transform="translate(37.0,80.5) rotate(-90) scale(0.96,1)" text-anchor="middle">Total</text>
<text class="st" transform="translate(37.0,121.8) rotate(-90) scale(0.96,1)" text-anchor="middle">(a)</text>
<text class="st" transform="translate(326.7,83.3) rotate(-90) scale(0.96,1)" text-anchor="middle">(b) One-on-one Time</text>
<text class="st" transform="translate(36.4,257.5) rotate(-90) scale(0.96,1)" text-anchor="middle">(c) Reading Time</text>
<text class="st" transform="translate(326.7,257.5) rotate(-90) scale(0.96,1)" text-anchor="middle">(d) Playing Time</text>
<text class="st" transform="translate(13.6,183.5) rotate(-90) scale(0.966,1)" text-anchor="middle">Parent-Child Time (minutes per day)</text>
<text class="st" transform="translate(278.5,338) scale(0.96,1)" text-anchor="middle">Age of Child</text>
<rect x="13.7" y="345.9" width="530.7" height="10.2" fill="none" stroke="#6a6a6a" stroke-width="1"/>
<text class="lg" x="21.9" y="353.7">Fathers of children born:</text>
<line x1="92.7" y1="351.4" x2="120.7" y2="351.4" stroke="#2c5d90" stroke-width="0.9" stroke-dasharray="5,2"/>
<circle cx="107" cy="351.4" r="1.7" fill="none" stroke="#2c5d90" stroke-width="1.2"/>
<text class="lg" x="126.5" y="353.7">1995-99</text>
<line x1="156.4" y1="351.4" x2="184.4" y2="351.4" stroke="#2c5d90" stroke-width="0.9" stroke-dasharray="1.4,1.8"/>
<circle cx="170.4" cy="351.4" r="1.7" fill="none" stroke="#2c5d90" stroke-width="1.2"/>
<text class="lg" x="188.7" y="353.7">2000-04</text>
<line x1="220" y1="351.4" x2="248" y2="351.4" stroke="#2c5d90" stroke-width="0.9" stroke-dasharray="8,2,3,2"/>
<circle cx="234" cy="351.4" r="1.7" fill="none" stroke="#2c5d90" stroke-width="1.2"/>
<text class="lg" x="251.8" y="353.7">2005-09</text>
<text class="lg" x="287.6" y="353.7">Mothers of children born:</text>
<line x1="361.4" y1="351.4" x2="389" y2="351.4" stroke="#ad3a4c" stroke-width="0.9" stroke-dasharray="5,2"/>
<circle cx="374.7" cy="351.4" r="1.7" fill="none" stroke="#ad3a4c" stroke-width="1.2"/>
<text class="lg" x="393.2" y="353.7">1995-99</text>
<line x1="424.8" y1="351.4" x2="452" y2="351.4" stroke="#ad3a4c" stroke-width="0.9" stroke-dasharray="1.4,1.8"/>
<circle cx="438.5" cy="351.4" r="1.7" fill="none" stroke="#ad3a4c" stroke-width="1.2"/>
<text class="lg" x="456.6" y="353.7">2000-04</text>
<line x1="487.6" y1="351.4" x2="514.8" y2="351.4" stroke="#ad3a4c" stroke-width="0.9" stroke-dasharray="8,2,3,2"/>
<circle cx="501" cy="351.4" r="1.7" fill="none" stroke="#ad3a4c" stroke-width="1.2"/>
<text class="lg" x="519.4" y="353.7">2005-09</text>
</svg>
</body></html>
